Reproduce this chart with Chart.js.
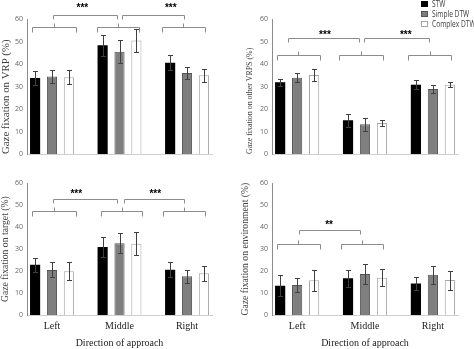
<!DOCTYPE html>
<html>
<head>
<meta charset="utf-8">
<script src="https://cdn.jsdelivr.net/npm/chart.js@4.4.0/dist/chart.umd.min.js"></script>
<style>
body{margin:0;background:#fff;}
#wrap{position:relative;width:474px;height:349px;overflow:hidden;}
canvas{position:absolute;}
#legend{position:absolute;left:421px;top:-1px;font:8.5px 'Open Sans',sans-serif;color:#404040;z-index:2;}
#legend div{height:10px;line-height:10px;white-space:nowrap;}
#legend span{display:inline-block;width:5px;height:4px;margin-right:4px;vertical-align:0px;}
#legend b{font-weight:normal;display:inline-block;transform:scaleX(0.78);transform-origin:left center;}
</style>
</head>
<body>
<div id="wrap">
  <canvas id="vrp" width="237" height="175" style="left:0;top:0"></canvas>
  <canvas id="other" width="237" height="175" style="left:237px;top:0"></canvas>
  <canvas id="target" width="237" height="174" style="left:0;top:175px"></canvas>
  <canvas id="env" width="237" height="174" style="left:237px;top:175px"></canvas>
  <div id="legend"></div>
</div>
<script>
const groups = ['Left', 'Middle', 'Right'];
const series = ['STW', 'Simple DTW', 'Complex DTW'];

// gaze fixation on VRP (%)
const vrpStw = [33.8, 48.3, 40.6];
const vrpSimple = [34.5, 45.5, 36.0];
const vrpComplex = [34.1, 50.5, 35.0];
const vrpStwErr = [3.3, 4.6, 3.3];
const vrpSimpleErr = [3.0, 5.0, 2.8];
const vrpComplexErr = [3.2, 5.1, 3.0];

// gaze fixation on other VRPS (%)
const otherStw = [31.9, 15.0, 30.8];
const otherSimple = [33.9, 13.2, 28.9];
const otherComplex = [35.1, 13.8, 30.8];
const otherStwErr = [1.6, 2.8, 2.1];
const otherSimpleErr = [2.1, 2.9, 1.8];
const otherComplexErr = [2.7, 1.5, 1.2];

// gaze fixation on target (%)
const targetStw = [22.9, 31.0, 20.6];
const targetSimple = [20.5, 32.7, 17.6];
const targetComplex = [19.9, 32.4, 19.0];
const targetStwErr = [3.2, 4.4, 3.3];
const targetSimpleErr = [3.4, 4.6, 3.0];
const targetComplexErr = [4.0, 5.2, 3.4];

// gaze fixation on environment (%)
const envStw = [13.3, 16.7, 14.3];
const envSimple = [13.7, 18.7, 18.3];
const envComplex = [15.8, 17.0, 15.9];
const envStwErr = [4.7, 4.0, 2.8];
const envSimpleErr = [3.1, 4.4, 4.1];
const envComplexErr = [4.7, 3.8, 4.3];

const yTicks = [0, 10, 20, 30, 40, 50, 60];

const fills = ['#000000', '#7f7f7f', '#ffffff'];
const edges = ['#000000', '#555555', '#a6a6a6'];

//error bars + significance brackets
const brackets = {
  id: 'brackets',
  afterDatasetsDraw(chart, args, o) {
    const {ctx, scales: {x, y}} = chart;
    const px = v => Math.round(x.getPixelForValue(v)) + 0.5;
    const py = v => Math.round(y.getPixelForValue(v)) + 0.5;
    ctx.save();
    ctx.lineWidth = 1;

    ctx.strokeStyle = '#404040';
    chart.data.datasets.forEach((ds, i) => {
      chart.getDatasetMeta(i).data.forEach((bar, j) => {
        const v = ds.data[j].y, e = ds.errors[j];
        const bx = Math.round(bar.x) + 0.5;
        const t = py(v + e), b = py(v - e);
        ctx.beginPath();
        ctx.moveTo(bx, t); ctx.lineTo(bx, b);
        ctx.moveTo(bx - 2.5, t); ctx.lineTo(bx + 2.5, t);
        ctx.moveTo(bx - 2.5, b); ctx.lineTo(bx + 2.5, b);
        ctx.stroke();
      });
    });

    ctx.strokeStyle = '#8c8c8c';
    const ly = py(o.lowY), hy = py(o.highY);
    o.low.forEach(([a, b]) => {
      const m = px((a + b) / 2);
      ctx.beginPath();
      ctx.moveTo(px(a), ly + 5); ctx.lineTo(px(a), ly); ctx.lineTo(px(b), ly); ctx.lineTo(px(b), ly + 5);
      ctx.moveTo(m, ly); ctx.lineTo(m, ly - 4);
      ctx.stroke();
    });
    o.high.forEach(([a, b]) => {
      ctx.beginPath();
      ctx.moveTo(px(a), hy + 4); ctx.lineTo(px(a), hy); ctx.lineTo(px(b), hy); ctx.lineTo(px(b), hy + 4);
      ctx.stroke();
    });

    ctx.fillStyle = '#000';
    ctx.font = 'bold 10px "Liberation Sans"';
    ctx.textAlign = 'center';
    ctx.textBaseline = 'middle';
    o.stars.forEach(([s, label]) => ctx.fillText(label, x.getPixelForValue(s), y.getPixelForValue(o.starY) + 2));
    ctx.restore();
  }
};

function makeChart(id, means, errs, o) {
  return new Chart(document.getElementById(id), {
    type: 'bar',
    data: {
      datasets: series.map((name, k) => ({
        label: name,
        data: means[k].map((v, i) => ({x: i, y: v})),
        errors: errs[k],
        backgroundColor: fills[k],
        borderColor: edges[k],
        borderWidth: k ? 1 : 0,
        categoryPercentage: 0.75,
        barPercentage: 0.6
      }))
    },
    options: {
      responsive: false,
      animation: false,
      layout: {padding: o.padding},
      plugins: {
        legend: {display: false},
        tooltip: {enabled: false},
        brackets: o.brackets
      },
      scales: {
        x: {
          type: 'linear',
          min: -0.37,
          max: 2.37,
          offset: false,
          grid: {display: false, drawTicks: false},
          border: {color: '#d0d0d0'},
          afterBuildTicks: s => { s.ticks = groups.map((g, i) => ({value: i})); },
          afterFit: s => { s.height = o.xHeight; },
          ticks: {
            display: o.showX,
            padding: 5,
            color: '#222',
            font: {family: 'Liberation Serif', size: 10},
            callback: v => groups[v]
          },
          title: {
            display: o.showX,
            text: 'Direction of approach',
            color: '#222',
            font: {family: 'Liberation Serif', size: 10},
            padding: 0
          }
        },
        y: {
          min: 0,
          max: 60,
          grid: {display: false, drawTicks: false},
          border: {color: '#8c8c8c'},
          afterBuildTicks: s => { s.ticks = yTicks.map(v => ({value: v})); },
          afterFit: s => { s.width = o.yWidth; },
          ticks: {
            padding: 4,
            color: '#666',
            font: {family: 'Open Sans', size: 7}
          },
          title: {
            display: true,
            text: o.yTitle,
            align: o.titleAlign,
            color: '#404040',
            font: {family: 'Liberation Serif', size: o.titleSize},
            padding: {top: o.titlePad, bottom: 0}
          }
        }
      }
    },
    plugins: [brackets]
  });
}

makeChart('vrp', [vrpStw, vrpSimple, vrpComplex], [vrpStwErr, vrpSimpleErr, vrpComplexErr], {
  yTitle: 'Gaze fixation on VRP (%)', yWidth: 27, titlePad: 0, titleSize: 10.8, titleAlign: 'start',
  showX: false, xHeight: 21,
  padding: {top: 19, right: 25, bottom: 0, left: 0},
  brackets: {
    low: [[-0.29, 0.36], [0.66, 1.29], [1.63, 2.26]], lowY: 56.4,
    high: [[0.02, 0.96], [1.03, 1.95]], highY: 61.9,
    stars: [[0.45, '***'], [1.76, '***']], starY: 65.6
  }
});

makeChart('other', [otherStw, otherSimple, otherComplex], [otherStwErr, otherSimpleErr, otherComplexErr], {
  yTitle: 'Gaze fixation on other VRPS (%)', yWidth: 35, titlePad: 8, titleSize: 7.9, titleAlign: 'start',
  showX: false, xHeight: 21,
  padding: {top: 19, right: 16, bottom: 0, left: 0},
  brackets: {
    low: [[-0.3, 0.33], [0.62, 1.27], [1.64, 2.27]], lowY: 44.1,
    high: [[-0.14, 0.91], [0.99, 1.95]], highY: 51.6,
    stars: [[0.41, '***'], [1.6, '***']], starY: 53.8
  }
});

makeChart('target', [targetStw, targetSimple, targetComplex], [targetStwErr, targetSimpleErr, targetComplexErr], {
  yTitle: 'Gaze fixation on target (%)', yWidth: 27, titlePad: 0, titleSize: 9.7, titleAlign: 'center',
  showX: true, xHeight: 34,
  padding: {top: 4, right: 25, bottom: 0, left: 0},
  brackets: {
    low: [[-0.29, 0.35], [0.72, 1.34], [1.64, 2.26]], lowY: 47.2,
    high: [[0.02, 0.96], [1.06, 1.95]], highY: 52.8,
    stars: [[0.36, '***'], [1.53, '***']], starY: 55.8
  }
});

makeChart('env', [envStw, envSimple, envComplex], [envStwErr, envSimpleErr, envComplexErr], {
  yTitle: 'Gaze fixation on environment (%)', yWidth: 35, titlePad: 2.7, titleSize: 9.7, titleAlign: 'center',
  showX: true, xHeight: 34,
  padding: {top: 4, right: 16, bottom: 0, left: 0},
  brackets: {
    low: [[-0.3, 0.33], [0.64, 1.27]], lowY: 32.1,
    high: [[0.03, 0.93]], highY: 38.6,
    stars: [[0.47, '**']], starY: 41.6
  }
});

//legend built from the series names
const legend = document.querySelector('#legend');
series.forEach((name, k) => {
  const row = document.createElement('div');
  row.innerHTML = '<span style="background:' + fills[k] + ';border:1px solid ' + edges[k] + '"></span><b>' + name + '</b>';
  legend.appendChild(row);
});
</script>
</body>
</html>
